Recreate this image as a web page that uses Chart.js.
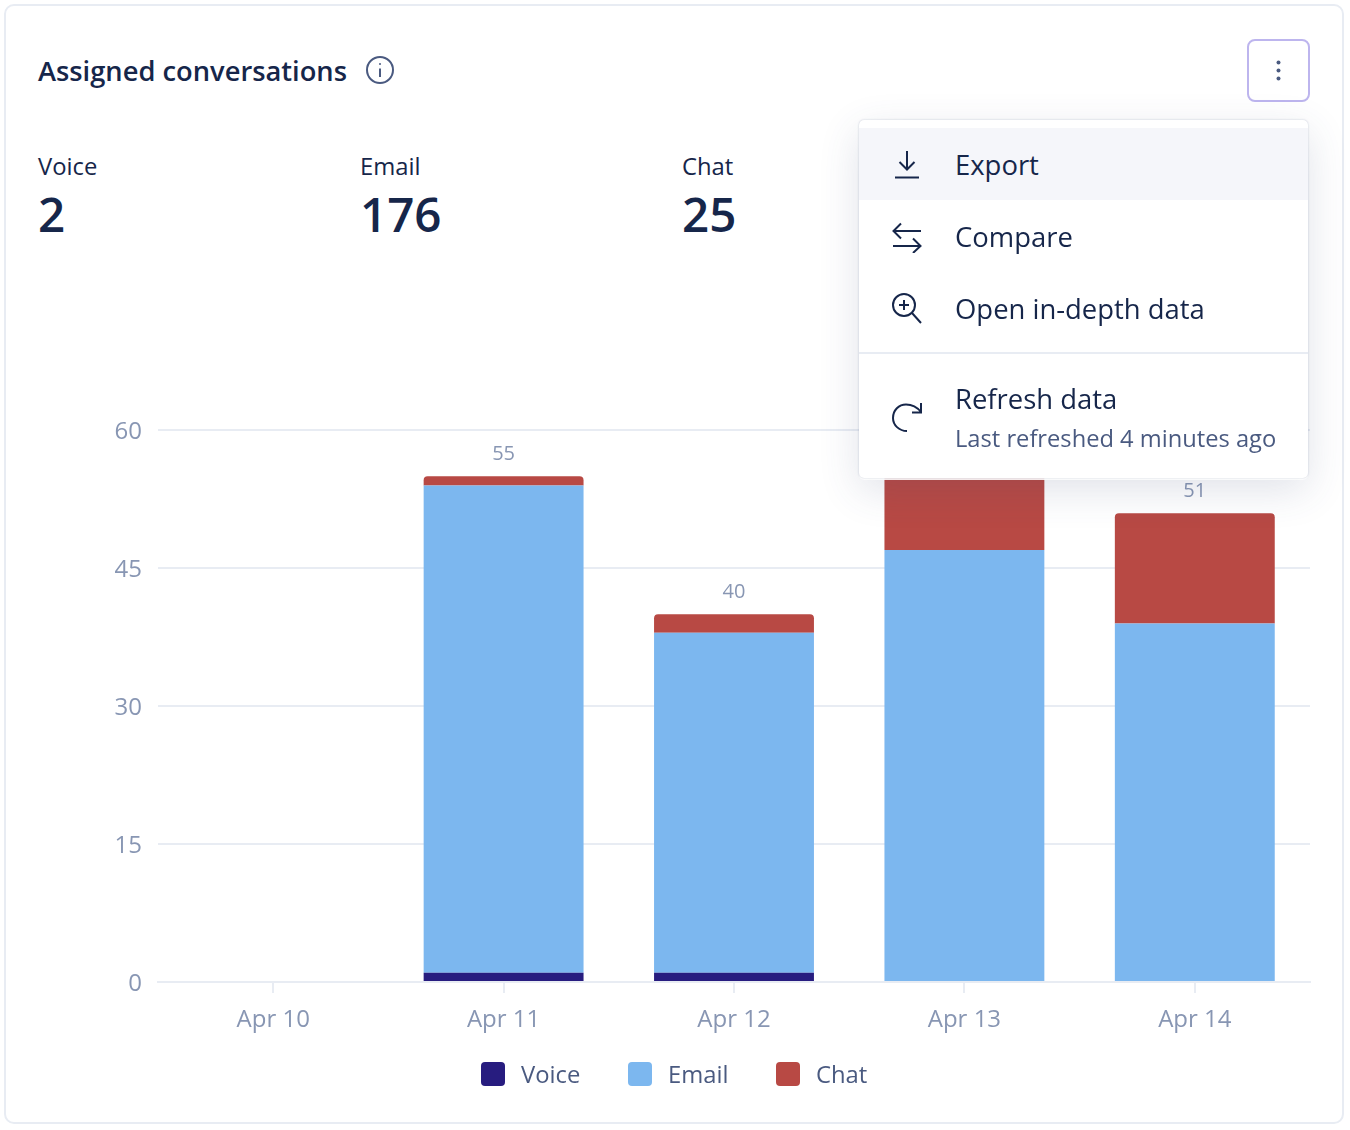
<!DOCTYPE html>
<html>
<head>
<meta charset="utf-8">
<title>Assigned conversations</title>
<script src="https://cdn.jsdelivr.net/npm/chart.js@4"></script>
<style>
  html, body { margin: 0; padding: 0; background: #fff; }
  body { width: 1350px; height: 1130px; position: relative; overflow: hidden; font-family: "Open Sans", sans-serif; color: #16264a; }
  .card { position: absolute; left: 4px; top: 4px; width: 1336px; height: 1116px; border: 2px solid #e8ecf3; border-radius: 10px; }
  .abs { position: absolute; white-space: nowrap; }
  h1 { margin: 0; font-size: 27.3px; line-height: 38px; font-weight: 600; left: 38px; top: 52px; }
  .stat-name { font-size: 23.8px; line-height: 32px; top: 150px; }
  .stat-value { font-size: 47.5px; line-height: 60px; font-weight: 600; top: 184px; }
  canvas { position: absolute; left: 0; top: 400px; }
  .more { left: 1247px; top: 38.500px; width: 59px; height: 59px; border: 2px solid #bdb5ee; border-radius: 8px; background: #fff; }
  .menu { left: 859px; top: 120px; width: 449px; height: 358px; background: #fff; border-radius: 5px; box-shadow: 0 0 2px rgba(60, 75, 120, .3), 0 2px 0 rgba(255, 255, 255, .9), 0 12px 40px rgba(60, 75, 120, .16); }
  .hl { position: absolute; left: 0; top: 8px; width: 449px; height: 72px; background: #f5f6fa; }
  .rule { position: absolute; left: 0; top: 232px; width: 449px; height: 2px; background: #e8ecf3; }
  .item { position: absolute; left: 96px; font-size: 27.45px; line-height: 38px; white-space: nowrap; }
  .sub { position: absolute; left: 96px; top: 302px; font-size: 23.7px; line-height: 32px; color: #4a5a80; white-space: nowrap; }
  .menu svg { position: absolute; left: 32px; fill: none; stroke: #16264a; stroke-width: 2; }
  .legend { position: absolute; top: 1058px; left: 0; font-size: 23.8px; line-height: 32px; color: #4a5a80; }
  .legend i { position: absolute; top: 4px; width: 24px; height: 24px; border-radius: 4px; }
  .legend span { position: absolute; top: 0; white-space: nowrap; }
</style>
</head>
<body>
<div class="card"></div>
<h1 class="abs">Assigned conversations</h1>
<svg class="abs" style="left:365px;top:55px" width="30" height="30" viewBox="0 0 30 30" fill="none" stroke="#4a5a80" stroke-width="2">
  <circle cx="15" cy="15" r="13"/>
  <path d="M15 13.500V22"/>
  <circle cx="15" cy="9" r="1" fill="#4a5a80" stroke="none"/>
</svg>

<div class="abs stat-name" style="left:38px">Voice</div>
<div class="abs stat-value" style="left:38px">2</div>
<div class="abs stat-name" style="left:360px">Email</div>
<div class="abs stat-value" style="left:360px">176</div>
<div class="abs stat-name" style="left:682px">Chat</div>
<div class="abs stat-value" style="left:682px">25</div>

<canvas id="conversationsChart" width="1350" height="700"></canvas>
<div class="legend" id="legend"></div>

<div class="abs more">
  <svg width="59" height="59" viewBox="0 0 59 59" fill="#4a5a80">
    <circle cx="29.500" cy="21.500" r="2"/><circle cx="29.500" cy="29.500" r="2"/><circle cx="29.500" cy="37.500" r="2"/>
  </svg>
</div>

<div class="abs menu">
  <div class="hl"></div>
  <svg style="top:29px" width="32" height="32" viewBox="0 0 32 32"><path d="M16 2V20M8.500 13L16 20.500L23.500 13M4 28.500H28"/></svg>
  <div class="item" style="top:26px">Export</div>
  <svg style="top:101px" width="32" height="32" viewBox="0 0 32 32"><path d="M30 10H3M10 2.500L2.500 10L10 17.500M2 25H29M22 17.500L29.500 25L22 32"/></svg>
  <div class="item" style="top:98px">Compare</div>
  <svg style="top:173px" width="32" height="32" viewBox="0 0 32 32"><circle cx="13" cy="12" r="11"/><path d="M21 20L30 30M13 7V17M8 12H18"/></svg>
  <div class="item" style="top:170px">Open in-depth data</div>
  <div class="rule"></div>
  <svg style="top:281px" width="32" height="32" viewBox="0 0 32 32"><path d="M16 30C8 30 2 24 2 17C2 9 8 3.500 15 3.500C21 3.500 26 6 30 11M30 2V11.500H21"/></svg>
  <div class="item" style="top:260px">Refresh data</div>
  <div class="sub">Last refreshed 4 minutes ago</div>
</div>

<script>
const days = ["Apr 10", "Apr 11", "Apr 12", "Apr 13", "Apr 14"];
const voice = [0, 1, 1, 0, 0];
const email = [0, 53, 37, 47, 39];
const chat = [0, 1, 2, 10, 12];
const yTicks = [0, 15, 30, 45, 60];

const seriesNames = ["Voice", "Email", "Chat"];
const seriesColors = ["#271c7f", "#7cb7ef", "#b84944"];
const legendLeft = [481, 628, 776];

const gridColor = "#e8ecf3";
const tickColor = "#8896b3";

// writes the sum of each stack just above its bar
const stackTotals = {
  id: "stackTotals",
  afterDatasetsDraw(chart) {
    const { ctx, scales } = chart;
    ctx.save();
    ctx.font = '20px "Open Sans"';
    ctx.fillStyle = tickColor;
    ctx.textAlign = "center";
    ctx.textBaseline = "bottom";
    days.forEach((day, i) => {
      const total = voice[i] + email[i] + chat[i];
      if (!total) return;
      ctx.fillText(total, scales.x.getPixelForValue(i), scales.y.getPixelForValue(total) - 12);
    });
    ctx.restore();
  },
};

// y labels sit a little below their grid line
const nudgeYLabels = {
  id: "nudgeYLabels",
  afterUpdate(chart) {
    chart.scales.y.getLabelItems().forEach((item) => {
      item.options.translation[1] += 2;
    });
  },
};

function dataset(label, data, color, radius) {
  return {
    label: label,
    data: data,
    backgroundColor: color,
    borderRadius: radius,
    borderSkipped: false,
    categoryPercentage: 1,
    barPercentage: 0.694,
  };
}

new Chart(document.getElementById("conversationsChart").getContext("2d"), {
  type: "bar",
  data: {
    labels: days,
    datasets: [
      dataset(seriesNames[0], voice, seriesColors[0], 0),
      dataset(seriesNames[1], email, seriesColors[1], 0),
      dataset(seriesNames[2], chat, seriesColors[2], { topLeft: 4, topRight: 4, bottomLeft: 0, bottomRight: 0 }),
    ],
  },
  options: {
    responsive: false,
    animation: false,
    layout: { padding: { top: 30, right: 40, bottom: 0, left: 0 } },
    scales: {
      x: {
        stacked: true,
        afterFit: (scale) => { scale.height = 118; },
        border: { color: gridColor, width: 2 },
        grid: { offset: false, drawOnChartArea: false, drawTicks: true, tickLength: 11, tickColor: gridColor, lineWidth: 2 },
        ticks: { color: tickColor, font: { family: "Open Sans", size: 24 }, padding: 13, maxRotation: 0 },
      },
      y: {
        stacked: true,
        min: 0,
        max: 60,
        afterFit: (scale) => { scale.width = 158; },
        afterBuildTicks: (scale) => { scale.ticks = yTicks.map((v) => ({ value: v })); },
        border: { display: false },
        grid: { color: gridColor, lineWidth: 2, drawTicks: false },
        ticks: { color: tickColor, font: { family: "Open Sans", size: 24 }, padding: 16 },
      },
    },
    plugins: {
      legend: { display: false },
      tooltip: { enabled: false },
    },
  },
  plugins: [stackTotals, nudgeYLabels],
});

const legendDiv = document.getElementById("legend");
seriesNames.forEach((name, i) => {
  legendDiv.innerHTML += `<i style="left:${legendLeft[i]}px;background:${seriesColors[i]}"></i><span style="left:${legendLeft[i] + 40}px">${name}</span>`;
});
</script>
</body>
</html>
